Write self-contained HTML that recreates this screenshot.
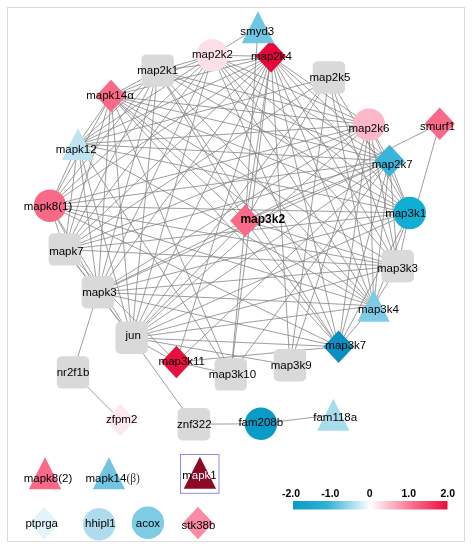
<!DOCTYPE html>
<html><head><meta charset="utf-8"><title>network</title>
<style>
html,body{margin:0;padding:0;background:#fff;}
body{width:473px;height:550px;overflow:hidden;}
svg{display:block}
text{font-family:"Liberation Sans",sans-serif;fill:#000}
.l{font-size:11.5px;text-anchor:middle}
.b{font-size:12px;font-weight:bold;text-anchor:middle}
.c{font-size:10.5px;font-weight:bold;text-anchor:middle}
.e line{stroke:#858585;stroke-width:0.8}
</style></head><body>
<svg width="473" height="550" viewBox="0 0 473 550">
<defs><linearGradient id="g" x1="0" x2="1" y1="0" y2="0"><stop offset="0" stop-color="#0a9bc7"/><stop offset="0.22" stop-color="#2fb0d4"/><stop offset="0.5" stop-color="#ffffff"/><stop offset="0.78" stop-color="#f96a89"/><stop offset="1" stop-color="#e8103f"/></linearGradient></defs>
<rect x="0" y="0" width="473" height="550" fill="#fff"/>
<rect x="7.5" y="7.5" width="457" height="534" fill="none" stroke="#dcdcdc" stroke-width="1"/>

<g class="e">
<line x1="131.7" y1="337.7" x2="157.7" y2="70.6"/>
<line x1="131.7" y1="337.7" x2="212.5" y2="55.2"/>
<line x1="131.7" y1="337.7" x2="271.0" y2="56.4"/>
<line x1="131.7" y1="337.7" x2="328.9" y2="77.5"/>
<line x1="131.7" y1="337.7" x2="369.0" y2="124.8"/>
<line x1="131.7" y1="337.7" x2="389.5" y2="160.9"/>
<line x1="131.7" y1="337.7" x2="409.7" y2="213.0"/>
<line x1="131.7" y1="337.7" x2="176.4" y2="362.0"/>
<line x1="131.7" y1="337.7" x2="397.7" y2="266.3"/>
<line x1="131.7" y1="337.7" x2="373.6" y2="305.8"/>
<line x1="131.7" y1="337.7" x2="338.6" y2="346.7"/>
<line x1="131.7" y1="337.7" x2="290.0" y2="365.2"/>
<line x1="131.7" y1="337.7" x2="78.0" y2="144.0"/>
<line x1="131.7" y1="337.7" x2="111.0" y2="96.0"/>
<line x1="131.7" y1="337.7" x2="97.9" y2="292.2"/>
<line x1="131.7" y1="337.7" x2="64.8" y2="249.4"/>
<line x1="131.7" y1="337.7" x2="49.9" y2="205.8"/>
<line x1="157.7" y1="70.6" x2="212.5" y2="55.2"/>
<line x1="157.7" y1="70.6" x2="271.0" y2="56.4"/>
<line x1="157.7" y1="70.6" x2="369.0" y2="124.8"/>
<line x1="157.7" y1="70.6" x2="389.5" y2="160.9"/>
<line x1="157.7" y1="70.6" x2="409.7" y2="213.0"/>
<line x1="157.7" y1="70.6" x2="373.6" y2="305.8"/>
<line x1="157.7" y1="70.6" x2="338.6" y2="346.7"/>
<line x1="157.7" y1="70.6" x2="78.0" y2="144.0"/>
<line x1="157.7" y1="70.6" x2="111.0" y2="96.0"/>
<line x1="157.7" y1="70.6" x2="97.9" y2="292.2"/>
<line x1="157.7" y1="70.6" x2="64.8" y2="249.4"/>
<line x1="157.7" y1="70.6" x2="49.9" y2="205.8"/>
<line x1="212.5" y1="55.2" x2="271.0" y2="56.4"/>
<line x1="212.5" y1="55.2" x2="369.0" y2="124.8"/>
<line x1="212.5" y1="55.2" x2="389.5" y2="160.9"/>
<line x1="212.5" y1="55.2" x2="409.7" y2="213.0"/>
<line x1="212.5" y1="55.2" x2="397.7" y2="266.3"/>
<line x1="212.5" y1="55.2" x2="373.6" y2="305.8"/>
<line x1="212.5" y1="55.2" x2="338.6" y2="346.7"/>
<line x1="212.5" y1="55.2" x2="78.0" y2="144.0"/>
<line x1="212.5" y1="55.2" x2="111.0" y2="96.0"/>
<line x1="212.5" y1="55.2" x2="97.9" y2="292.2"/>
<line x1="212.5" y1="55.2" x2="64.8" y2="249.4"/>
<line x1="212.5" y1="55.2" x2="49.9" y2="205.8"/>
<line x1="271.0" y1="56.4" x2="369.0" y2="124.8"/>
<line x1="271.0" y1="56.4" x2="389.5" y2="160.9"/>
<line x1="271.0" y1="56.4" x2="409.7" y2="213.0"/>
<line x1="271.0" y1="56.4" x2="230.8" y2="374.4"/>
<line x1="271.0" y1="56.4" x2="176.4" y2="362.0"/>
<line x1="271.0" y1="56.4" x2="397.7" y2="266.3"/>
<line x1="271.0" y1="56.4" x2="373.6" y2="305.8"/>
<line x1="271.0" y1="56.4" x2="338.6" y2="346.7"/>
<line x1="271.0" y1="56.4" x2="290.0" y2="365.2"/>
<line x1="271.0" y1="56.4" x2="78.0" y2="144.0"/>
<line x1="271.0" y1="56.4" x2="111.0" y2="96.0"/>
<line x1="271.0" y1="56.4" x2="97.9" y2="292.2"/>
<line x1="271.0" y1="56.4" x2="64.8" y2="249.4"/>
<line x1="271.0" y1="56.4" x2="49.9" y2="205.8"/>
<line x1="328.9" y1="77.5" x2="409.7" y2="213.0"/>
<line x1="328.9" y1="77.5" x2="397.7" y2="266.3"/>
<line x1="328.9" y1="77.5" x2="373.6" y2="305.8"/>
<line x1="328.9" y1="77.5" x2="290.0" y2="365.2"/>
<line x1="328.9" y1="77.5" x2="78.0" y2="144.0"/>
<line x1="328.9" y1="77.5" x2="64.8" y2="249.4"/>
<line x1="369.0" y1="124.8" x2="389.5" y2="160.9"/>
<line x1="369.0" y1="124.8" x2="409.7" y2="213.0"/>
<line x1="369.0" y1="124.8" x2="397.7" y2="266.3"/>
<line x1="369.0" y1="124.8" x2="373.6" y2="305.8"/>
<line x1="369.0" y1="124.8" x2="338.6" y2="346.7"/>
<line x1="369.0" y1="124.8" x2="290.0" y2="365.2"/>
<line x1="369.0" y1="124.8" x2="78.0" y2="144.0"/>
<line x1="369.0" y1="124.8" x2="111.0" y2="96.0"/>
<line x1="369.0" y1="124.8" x2="97.9" y2="292.2"/>
<line x1="369.0" y1="124.8" x2="64.8" y2="249.4"/>
<line x1="369.0" y1="124.8" x2="49.9" y2="205.8"/>
<line x1="389.5" y1="160.9" x2="409.7" y2="213.0"/>
<line x1="389.5" y1="160.9" x2="230.8" y2="374.4"/>
<line x1="389.5" y1="160.9" x2="176.4" y2="362.0"/>
<line x1="389.5" y1="160.9" x2="397.7" y2="266.3"/>
<line x1="389.5" y1="160.9" x2="373.6" y2="305.8"/>
<line x1="389.5" y1="160.9" x2="338.6" y2="346.7"/>
<line x1="389.5" y1="160.9" x2="78.0" y2="144.0"/>
<line x1="389.5" y1="160.9" x2="111.0" y2="96.0"/>
<line x1="389.5" y1="160.9" x2="97.9" y2="292.2"/>
<line x1="389.5" y1="160.9" x2="64.8" y2="249.4"/>
<line x1="389.5" y1="160.9" x2="49.9" y2="205.8"/>
<line x1="409.7" y1="213.0" x2="397.7" y2="266.3"/>
<line x1="409.7" y1="213.0" x2="373.6" y2="305.8"/>
<line x1="409.7" y1="213.0" x2="338.6" y2="346.7"/>
<line x1="409.7" y1="213.0" x2="78.0" y2="144.0"/>
<line x1="409.7" y1="213.0" x2="111.0" y2="96.0"/>
<line x1="409.7" y1="213.0" x2="97.9" y2="292.2"/>
<line x1="409.7" y1="213.0" x2="64.8" y2="249.4"/>
<line x1="409.7" y1="213.0" x2="49.9" y2="205.8"/>
<line x1="230.8" y1="374.4" x2="176.4" y2="362.0"/>
<line x1="230.8" y1="374.4" x2="78.0" y2="144.0"/>
<line x1="230.8" y1="374.4" x2="111.0" y2="96.0"/>
<line x1="176.4" y1="362.0" x2="338.6" y2="346.7"/>
<line x1="176.4" y1="362.0" x2="64.8" y2="249.4"/>
<line x1="397.7" y1="266.3" x2="373.6" y2="305.8"/>
<line x1="397.7" y1="266.3" x2="111.0" y2="96.0"/>
<line x1="397.7" y1="266.3" x2="97.9" y2="292.2"/>
<line x1="397.7" y1="266.3" x2="64.8" y2="249.4"/>
<line x1="397.7" y1="266.3" x2="49.9" y2="205.8"/>
<line x1="373.6" y1="305.8" x2="338.6" y2="346.7"/>
<line x1="373.6" y1="305.8" x2="78.0" y2="144.0"/>
<line x1="373.6" y1="305.8" x2="111.0" y2="96.0"/>
<line x1="373.6" y1="305.8" x2="97.9" y2="292.2"/>
<line x1="373.6" y1="305.8" x2="49.9" y2="205.8"/>
<line x1="338.6" y1="346.7" x2="111.0" y2="96.0"/>
<line x1="338.6" y1="346.7" x2="97.9" y2="292.2"/>
<line x1="338.6" y1="346.7" x2="49.9" y2="205.8"/>
<line x1="78.0" y1="144.0" x2="111.0" y2="96.0"/>
<line x1="78.0" y1="144.0" x2="97.9" y2="292.2"/>
<line x1="78.0" y1="144.0" x2="64.8" y2="249.4"/>
<line x1="78.0" y1="144.0" x2="49.9" y2="205.8"/>
<line x1="111.0" y1="96.0" x2="97.9" y2="292.2"/>
<line x1="111.0" y1="96.0" x2="64.8" y2="249.4"/>
<line x1="111.0" y1="96.0" x2="49.9" y2="205.8"/>
<line x1="97.9" y1="292.2" x2="64.8" y2="249.4"/>
<line x1="97.9" y1="292.2" x2="49.9" y2="205.8"/>
<line x1="64.8" y1="249.4" x2="49.9" y2="205.8"/>
<line x1="245.3" y1="220.7" x2="258.0" y2="27.3"/>
<line x1="245.3" y1="220.7" x2="439.7" y2="123.7"/>
<line x1="245.3" y1="220.7" x2="271.0" y2="56.4"/>
<line x1="245.3" y1="220.7" x2="328.9" y2="77.5"/>
<line x1="245.3" y1="220.7" x2="157.7" y2="70.6"/>
<line x1="245.3" y1="220.7" x2="111.0" y2="96.0"/>
<line x1="245.3" y1="220.7" x2="389.5" y2="160.9"/>
<line x1="245.3" y1="220.7" x2="397.7" y2="266.3"/>
<line x1="245.3" y1="220.7" x2="338.6" y2="346.7"/>
<line x1="245.3" y1="220.7" x2="230.8" y2="374.4"/>
<line x1="245.3" y1="220.7" x2="131.7" y2="337.7"/>
<line x1="245.3" y1="220.7" x2="97.9" y2="292.2"/>
<line x1="258.0" y1="27.3" x2="212.5" y2="55.2"/>
<line x1="439.7" y1="123.7" x2="414.5" y2="213"/>
<line x1="97.9" y1="292.2" x2="73.0" y2="372.4"/>
<line x1="73.0" y1="372.4" x2="120.4" y2="420.0"/>
<line x1="131.7" y1="337.7" x2="193.9" y2="424.2"/>
<line x1="193.9" y1="424.2" x2="260.9" y2="423.8"/>
<line x1="260.9" y1="423.8" x2="333.3" y2="414.8"/>
</g>
<polygon points="271.0,40.2 286.2,56.4 271.0,72.6 255.8,56.4" fill="#e6063c"/>
<polygon points="258.0,11.3 274.2,43.3 241.8,43.3" fill="#6ec6e0"/>
<circle cx="212.5" cy="55.2" r="16.2" fill="#fde0e7"/>
<rect x="141.5" y="54.4" width="32.4" height="32.4" rx="5" fill="#d9d9d9"/>
<rect x="312.7" y="61.3" width="32.4" height="32.4" rx="5" fill="#d9d9d9"/>
<polygon points="111.0,79.8 126.2,96.0 111.0,112.2 95.8,96.0" fill="#f96a89"/>
<circle cx="369.0" cy="124.8" r="16.2" fill="#fcb8c8"/>
<polygon points="439.7,107.5 454.9,123.7 439.7,139.9 424.5,123.7" fill="#f96a89"/>
<polygon points="78.0,128.0 94.2,160.0 61.8,160.0" fill="#bfe4f1"/>
<polygon points="389.5,144.7 404.7,160.9 389.5,177.1 374.3,160.9" fill="#3ab4d8"/>
<circle cx="49.9" cy="205.8" r="16.2" fill="#f96a89"/>
<circle cx="409.7" cy="213.0" r="16.2" fill="#10aed3"/>
<polygon points="245.3,204.5 260.5,220.7 245.3,236.9 230.1,220.7" fill="#f96a89"/>
<rect x="48.6" y="233.2" width="32.4" height="32.4" rx="5" fill="#d9d9d9"/>
<rect x="381.5" y="250.1" width="32.4" height="32.4" rx="5" fill="#d9d9d9"/>
<rect x="81.7" y="276.0" width="32.4" height="32.4" rx="5" fill="#d9d9d9"/>
<polygon points="373.6,289.8 389.8,321.8 357.4,321.8" fill="#7fcbe4"/>
<rect x="115.5" y="321.5" width="32.4" height="32.4" rx="5" fill="#d9d9d9"/>
<polygon points="338.6,330.5 353.8,346.7 338.6,362.9 323.4,346.7" fill="#0a8fc0"/>
<polygon points="176.4,345.8 191.6,362.0 176.4,378.2 161.2,362.0" fill="#e8103f"/>
<rect x="214.6" y="358.2" width="32.4" height="32.4" rx="5" fill="#d9d9d9"/>
<rect x="273.8" y="349.0" width="32.4" height="32.4" rx="5" fill="#d9d9d9"/>
<rect x="56.8" y="356.2" width="32.4" height="32.4" rx="5" fill="#d9d9d9"/>
<polygon points="120.4,403.8 135.6,420.0 120.4,436.2 105.2,420.0" fill="#fde8ee"/>
<rect x="177.7" y="408.0" width="32.4" height="32.4" rx="5" fill="#d9d9d9"/>
<circle cx="260.9" cy="423.8" r="16.2" fill="#0a9bc7"/>
<polygon points="333.3,398.8 349.5,430.8 317.1,430.8" fill="#a8dcec"/>
<polygon points="45.0,457.2 61.2,489.2 28.8,489.2" fill="#f96a89"/>
<polygon points="108.9,457.2 125.1,489.2 92.7,489.2" fill="#72c4e0"/>
<polygon points="199.9,456.8 216.1,488.8 183.7,488.8" fill="#8c0a26"/>
<polygon points="44.2,507.3 59.4,523.5 44.2,539.7 29.0,523.5" fill="#e3f3f9"/>
<circle cx="99.2" cy="524.3" r="16.2" fill="#aedcec"/>
<circle cx="147.9" cy="522.8" r="16.2" fill="#7ecbe3"/>
<polygon points="198.0,506.8 213.2,523.0 198.0,539.2 182.8,523.0" fill="#f98ba2"/>
<rect x="180.5" y="454.5" width="38.5" height="38.8" fill="none" stroke="#8a8af0" stroke-width="1"/>
<text class="l" x="271.5" y="60.1">map2k4</text>
<text class="l" x="257.3" y="34.9">smyd3</text>
<text class="l" x="212.5" y="57.9">map2k2</text>
<text class="l" x="157.7" y="74.4">map2k1</text>
<text class="l" x="329.9" y="81.2">map2k5</text>
<text class="l" x="110.0" y="99.3">mapk14α</text>
<text class="l" x="368.9" y="132.0">map2k6</text>
<text class="l" x="437.6" y="129.5">smurf1</text>
<text class="l" x="76.2" y="152.7">mapk12</text>
<text class="l" x="392.2" y="167.7">map2k7</text>
<text class="l" x="48.0" y="209.5">mapk8(1)</text>
<text class="l" x="405.6" y="217.3">map3k1</text>
<text class="b" x="262.8" y="223.2">map3k2</text>
<text class="l" x="66.4" y="254.9">mapk7</text>
<text class="l" x="397.5" y="271.8">map3k3</text>
<text class="l" x="99.4" y="295.6">mapk3</text>
<text class="l" x="378.4" y="313.3">map3k4</text>
<text class="l" x="133.2" y="338.8">jun</text>
<text class="l" x="345.8" y="349.0">map3k7</text>
<text class="l" x="181.8" y="365.3">map3k11</text>
<text class="l" x="232.5" y="377.6">map3k10</text>
<text class="l" x="291.2" y="369.0">map3k9</text>
<text class="l" x="73.0" y="376.4">nr2f1b</text>
<text class="l" x="121.7" y="423.2">zfpm2</text>
<text class="l" x="194.3" y="428.2">znf322</text>
<text class="l" x="260.8" y="426.3">fam208b</text>
<text class="l" x="335.2" y="420.8">fam118a</text>
<text class="l" x="48.0" y="482.2">mapk8(2)</text>
<text class="l" x="112.7" y="482.2">mapk14<tspan font-family="'Liberation Serif',serif" fill="#333">(β)</tspan></text>
<text class="l" x="199.5" y="478.6">m<tspan fill="#fff">apk</tspan>1</text>
<text class="l" x="41.7" y="527.3">ptprga</text>
<text class="l" x="100.4" y="526.8">hhipl1</text>
<text class="l" x="147.9" y="527.3">acox</text>
<text class="l" x="198.4" y="528.6">stk38b</text>
<rect x="293" y="501" width="154.5" height="8.5" fill="url(#g)"/>
<text class="c" x="291.0" y="496.9">-2.0</text>
<text class="c" x="330.4" y="496.9">-1.0</text>
<text class="c" x="369.6" y="496.9">0</text>
<text class="c" x="408.8" y="496.9">1.0</text>
<text class="c" x="447.8" y="496.9">2.0</text>
</svg></body></html>
